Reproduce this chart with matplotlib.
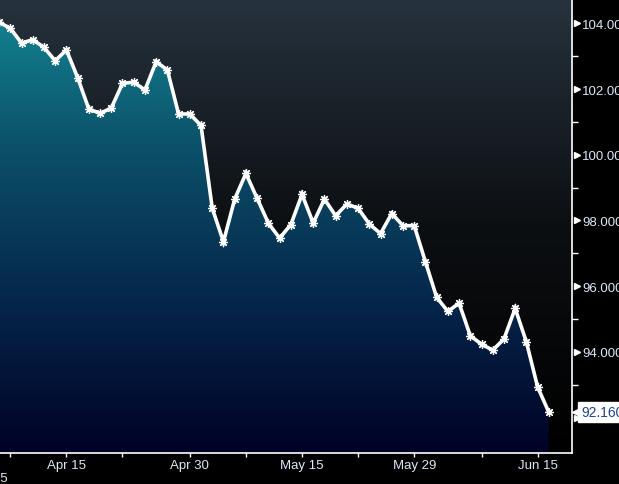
import numpy as np
import matplotlib
matplotlib.use("Agg")
import matplotlib.pyplot as plt
from matplotlib.colors import LinearSegmentedColormap
from matplotlib.transforms import blended_transform_factory

# daily closes, one per trading day (first one sits at the left edge)
prices = [104.03, 103.85, 103.40, 103.50, 103.27, 102.86, 103.19, 102.35, 101.39, 101.26,
          101.42, 102.17, 102.21, 101.97, 102.83, 102.58, 101.24, 101.24, 100.89, 98.37,
          97.35, 98.65, 99.43, 98.67, 97.92, 97.46, 97.87, 98.79, 97.92, 98.65,
          98.14, 98.50, 98.37, 97.89, 97.60, 98.21, 97.84, 97.84, 96.74, 95.66,
          95.23, 95.48, 94.49, 94.23, 94.05, 94.39, 95.32, 94.30, 92.93, 92.16]
tick_idx = [1, 6, 11, 17, 22, 27, 32, 37, 43, 48]
label_idx = [6, 17, 27, 37, 48]
date_labels = ["Apr 15", "Apr 30", "May 15", "May 29", "Jun 15"]
year_label = "2015"
y_major = [92, 94, 96, 98, 100, 102, 104]
y_minor = [93, 95, 97, 99, 101, 103]
last_label = "92.160"

W, H = 619, 485
X0, X1 = 0.082, 51.1
Y0, Y1 = 90.92, 104.74
TXT = "#dce8f8"
plt.rcParams["font.family"] = ["Liberation Sans", "DejaVu Sans"]

fig = plt.figure(figsize=(W / 100, H / 100), dpi=100, facecolor="black")
ax = fig.add_axes([0, 31 / H, 572.4 / W, 454 / H])
x = np.arange(len(prices))

# background: dark slate fading to black
bg_cmap = LinearSegmentedColormap.from_list("bg", ["#000000", "#0c0f12", "#26323d"])
grad = np.linspace(0, 1, 256).reshape(-1, 1)
ax.imshow(grad, extent=[X0, X1, Y0, Y1], origin="lower", aspect="auto",
          cmap=bg_cmap, zorder=0, interpolation="bicubic")

# area under the curve: teal at top to navy at bottom, clipped to the polygon
fill_cmap = LinearSegmentedColormap.from_list("fill", ["#000226", "#05264a", "#0b4f68", "#148894"])
im = ax.imshow(grad, extent=[X0, X1, Y0, Y1], origin="lower", aspect="auto",
               cmap=fill_cmap, zorder=1, interpolation="bicubic")
poly = ax.fill_between(x, prices, Y0 - 1, facecolor="none", edgecolor="none")
im.set_clip_path(poly.get_paths()[0], transform=ax.transData)

ax.plot(x, prices, color="white", lw=2.6, zorder=3, solid_joinstyle="miter")
ax.plot(x, prices, ls="none", marker=(8, 2, 0), ms=6.5, mew=0.9, mec="white", zorder=4)

ax.set_xlim(X0, X1)
ax.set_ylim(Y0, Y1)

for s in ["top", "left"]:
    ax.spines[s].set_visible(False)
for s in ["right", "bottom"]:
    ax.spines[s].set_color("white")
    ax.spines[s].set_linewidth(1.2)
    ax.spines[s].set_zorder(5)

# x axis
ax.set_xticks(tick_idx)
ax.set_xticklabels([date_labels[label_idx.index(i)] if i in label_idx else "" for i in tick_idx])
ax.tick_params(axis="x", direction="out", length=3, width=1, color="white",
               labelcolor=TXT, labelsize=9.5, pad=1.5)
fig.text(7.5 / W, 1 - 479 / H, year_label, ha="right", va="center", color=TXT, fontsize=9.5)

# y axis on the right
ax.yaxis.tick_right()
ax.set_yticks(y_major)
ax.set_yticklabels([f"{v:.3f}" for v in y_major])
ax.set_yticks(y_minor, minor=True)
ax.tick_params(axis="y", which="major", length=0, pad=7, labelcolor=TXT, labelsize=9.5)
ax.tick_params(axis="y", which="minor", direction="out", length=4, width=1, color="white")
tr = blended_transform_factory(ax.transAxes, ax.transData)
ax.plot([1 + 4.5 / 572.4] * len(y_major), y_major, ls="none", marker=">", ms=4.5,
        color="white", transform=tr, clip_on=False, zorder=6)

# last value tag: small white notch plus a white box
ax.plot([1 + 4.5 / 572.4], [prices[-1]], ls="none", marker="<", ms=7,
        color="white", transform=tr, clip_on=False, zorder=9)
ax.text(1 + 9 / 572.4, prices[-1], last_label, transform=tr, va="center", ha="left",
        fontsize=10, color="#1d4494", clip_on=False, zorder=10,
        bbox=dict(boxstyle="square,pad=0.22", fc="white", ec="white"))

fig.savefig("out.png", dpi=100, facecolor="black")
